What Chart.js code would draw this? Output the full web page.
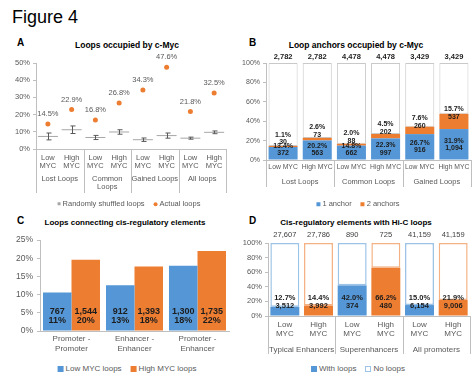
<!DOCTYPE html>
<html>
<head>
<meta charset="utf-8">
<script src="https://cdn.jsdelivr.net/npm/chart.js@4.4.0/dist/chart.umd.min.js"></script>
<style>
body { margin: 0; background: #fff; width: 474px; height: 383px; overflow: hidden; position: relative;
	font-family: "Liberation Sans", Arial, sans-serif; }
canvas { position: absolute; }
.t { position: absolute; white-space: nowrap; line-height: 1; transform: translate(-50%, -50%); }
.lt { position: absolute; white-space: nowrap; line-height: 1; transform: translateY(-50%); }
.lg { position: absolute; white-space: nowrap; line-height: 1; transform: translate(-50%, -50%);
	color: #595959; display: flex; align-items: center; }
.lg i { display: inline-block; margin-right: 2px; }
.lg b { font-weight: normal; margin-right: 9px; }
</style>
</head>
<body>

<div class="lt" style="left:12px;top:17px;font-size:18px;">Figure 4</div>

<div class="lt" style="left:17px;top:43px;font-size:10px;font-weight:bold;">A</div>
<div class="t" style="left:127px;top:45px;font-size:8.5px;font-weight:bold;">Loops occupied by c-Myc</div>
<div class="lt" style="left:249px;top:43px;font-size:10px;font-weight:bold;">B</div>
<div class="t" style="left:356px;top:45px;font-size:8.5px;font-weight:bold;">Loop anchors occupied by c-Myc</div>
<div class="lt" style="left:17px;top:221px;font-size:10px;font-weight:bold;">C</div>
<div class="t" style="left:125px;top:223px;font-size:8px;font-weight:bold;">Loops connecting cis-regulatory elements</div>
<div class="lt" style="left:249px;top:221px;font-size:10px;font-weight:bold;">D</div>
<div class="t" style="left:356px;top:223px;font-size:8px;font-weight:bold;">Cis-regulatory elements with Hi-C loops</div>

<canvas id="ca" width="237" height="150" style="left:0;top:50px"></canvas>
<canvas id="cb" width="237" height="140" style="left:237px;top:50px"></canvas>
<canvas id="cc" width="237" height="130" style="left:0;top:230px"></canvas>
<canvas id="cd" width="237" height="128" style="left:237px;top:230px"></canvas>

<div class="lg" style="left:129px;top:204px;font-size:7.5px;">
	<i style="width:3px;height:3px;background:#a6a6a6;"></i><b>Randomly shuffled loops</b>
	<i style="width:4px;height:4px;border-radius:50%;background:#ed7d31;"></i><b style="margin-right:0">Actual loops</b>
</div>
<div class="lg" style="left:358px;top:204px;font-size:7.5px;">
	<i style="width:4px;height:4px;background:#5597d6;"></i><b>1 anchor</b>
	<i style="width:4px;height:4px;background:#ed7d31;"></i><b style="margin-right:0">2 anchors</b>
</div>
<div class="lg" style="left:127px;top:369px;font-size:8px;">
	<i style="width:6px;height:6px;background:#5597d6;"></i><b>Low MYC loops</b>
	<i style="width:6px;height:6px;background:#ed7d31;"></i><b style="margin-right:0">High MYC loops</b>
</div>
<div class="lg" style="left:358px;top:369px;font-size:8px;">
	<i style="width:6px;height:6px;background:#5597d6;"></i><b>With loops</b>
	<i style="width:4px;height:4px;border:1px solid #9dc3e6;"></i><b style="margin-right:0">No loops</b>
</div>

<script>
// ---- panel A: loops occupied by c-Myc ----
const aCats = [["Low", "MYC"], ["High", "MYC"], ["Low", "MYC"], ["High", "MYC"],
	["Low", "MYC"], ["High", "MYC"], ["Low", "MYC"], ["High", "MYC"]];
const aGroups = [["Lost Loops"], ["Common", "Loops"], ["Gained Loops"], ["All loops"]];
const aShuffled = [7.3, 11.2, 6.7, 9.9, 5.4, 7.8, 6.3, 9.7];
const aShuffledErr = [2.0, 2.2, 1.2, 1.3, 1.0, 1.5, 0.6, 0.8];
const aActual = [14.5, 22.9, 16.8, 26.8, 34.3, 47.6, 21.8, 32.5];

// ---- panel B: loop anchors occupied by c-Myc ----
const bCats = ["Low MYC", "High MYC", "Low MYC", "High MYC", "Low MYC", "High MYC"];
const bGroups = [["Lost Loops"], ["Common Loops"], ["Gained Loops"]];
const bTotals = ["2,782", "2,782", "4,478", "4,478", "3,429", "3,429"];
const bOnePct = [13.4, 20.2, 14.8, 22.3, 26.7, 31.9];
const bOneN = ["372", "563", "662", "997", "916", "1,094"];
const bTwoPct = [1.1, 2.6, 2.0, 4.5, 7.6, 15.7];
const bTwoN = ["30", "73", "88", "202", "260", "537"];

// ---- panel C: loops connecting cis-regulatory elements ----
const cCats = [["Promoter -", "Promoter"], ["Enhancer -", "Enhancer"], ["Promoter -", "Enhancer"]];
const cLow = [10.6, 12.6, 17.9];
const cLowN = ["767", "912", "1,300"];
const cLowPct = ["11%", "13%", "18%"];
const cHigh = [19.6, 17.7, 22.0];
const cHighN = ["1,544", "1,393", "1,735"];
const cHighPct = ["20%", "18%", "22%"];

// ---- panel D: cis-regulatory elements with Hi-C loops ----
const dCats = [["Low", "MYC"], ["High", "MYC"], ["Low", "MYC"], ["High", "MYC"], ["Low", "MYC"], ["High", "MYC"]];
const dGroups = [["Typical Enhancers"], ["Superenhancers"], ["All promoters"]];
const dTotals = ["27,607", "27,786", "890", "725", "41,159", "41,159"];
const dWithPct = [12.7, 14.4, 42.0, 66.2, 15.0, 21.9];
const dWithN = ["3,512", "3,992", "374", "480", "6,154", "9,006"];

const FONT = '"Liberation Sans", Arial, sans-serif';
const BLUE = "#5597d6";
const ORANGE = "#ed7d31";
const AXIS = "#bfbfbf";
const GREY = "#595959";
const DARK = "#1c1c1c";

Chart.defaults.font.family = FONT;
Chart.defaults.color = GREY;
Chart.defaults.animation = false;
Chart.defaults.events = [];
Chart.defaults.plugins.legend.display = false;
Chart.defaults.plugins.tooltip.enabled = false;

function font(size, bold) {
	return (bold ? "bold " : "") + size + "px " + FONT;
}

// second level of category labels + divider lines under the x axis
function groupAxis(groups, size, o) {
	return {
		id: "groupAxis",
		afterDraw(chart) {
			const { ctx, chartArea, scales: { x } } = chart;
			const bottom = chartArea.bottom;
			ctx.save();
			ctx.strokeStyle = AXIS;
			ctx.lineWidth = 1;
			for (let g = 0; g <= groups.length; g++) {
				const px = Math.round(x.getPixelForValue(g * size - 0.5)) + 0.5;
				ctx.beginPath();
				ctx.moveTo(px, bottom);
				ctx.lineTo(px, bottom + o.drop);
				ctx.stroke();
			}
			ctx.fillStyle = GREY;
			ctx.font = font(o.size);
			ctx.textAlign = "center";
			ctx.textBaseline = "middle";
			groups.forEach((lines, g) => {
				const cx = x.getPixelForValue(g * size + (size - 1) / 2);
				lines.forEach((ln, k) => ctx.fillText(ln, cx, bottom + o.y + k * o.lh));
			});
			ctx.restore();
		},
	};
}

function twoLines(ctx, a, b, x, cy, gap) {
	ctx.fillText(a, x, cy - gap / 2);
	ctx.fillText(b, x, cy + gap / 2);
}

// ---------------- chart A ----------------
new Chart(document.getElementById("ca"), {
	type: "line",
	data: {
		labels: aCats,
		datasets: [
			{
				label: "Randomly shuffled loops",
				data: aShuffled,
				showLine: false,
				pointStyle: "line",
				pointRadius: 10,
				borderColor: "#a6a6a6",
				pointBorderColor: "#a6a6a6",
				pointBorderWidth: 1,
			},
			{
				label: "Actual loops",
				data: aActual,
				showLine: false,
				pointStyle: "circle",
				pointRadius: 2.5,
				borderColor: ORANGE,
				pointBackgroundColor: ORANGE,
				pointBorderWidth: 0,
			},
		],
	},
	options: {
		responsive: false,
		layout: { padding: { top: 13, right: 5, left: 0, bottom: 0 } },
		scales: {
			x: {
				offset: true,
				grid: { display: false, drawTicks: false },
				border: { color: AXIS },
				ticks: { font: { size: 7.5, lineHeight: 1.05 }, padding: 5, maxRotation: 0, autoSkip: false },
				afterFit: (s) => { s.height = 51; },
			},
			y: {
				min: 0,
				max: 50,
				ticks: { stepSize: 10, callback: (v) => v + "%", font: { size: 7.5 }, padding: 3 },
				grid: { drawOnChartArea: false, tickLength: 3, color: AXIS },
				border: { color: AXIS },
				afterFit: (s) => { s.width = 36; },
			},
		},
	},
	plugins: [
		groupAxis(aGroups, 2, { drop: 44, y: 30, lh: 8, size: 7.5 }),
		{
			id: "errorsAndLabels",
			afterDatasetsDraw(chart) {
				const { ctx, scales: { y } } = chart;
				ctx.save();
				ctx.strokeStyle = GREY;
				ctx.lineWidth = 1;
				chart.getDatasetMeta(0).data.forEach((pt, i) => {
					const top = y.getPixelForValue(aShuffled[i] + aShuffledErr[i]);
					const bot = y.getPixelForValue(aShuffled[i] - aShuffledErr[i]);
					const x = Math.round(pt.x) + 0.5;
					ctx.beginPath();
					ctx.moveTo(x, top); ctx.lineTo(x, bot);
					ctx.moveTo(x - 2, top); ctx.lineTo(x + 3, top);
					ctx.moveTo(x - 2, bot); ctx.lineTo(x + 3, bot);
					ctx.stroke();
				});
				ctx.fillStyle = GREY;
				ctx.font = font(7.5);
				ctx.textAlign = "center";
				ctx.textBaseline = "middle";
				chart.getDatasetMeta(1).data.forEach((pt, i) => {
					ctx.fillText(aActual[i].toFixed(1) + "%", pt.x, pt.y - 10);
				});
				ctx.restore();
			},
		},
	],
});

// ---------------- chart B ----------------
const bRest = bOnePct.map((v, i) => 100 - v - bTwoPct[i]);
new Chart(document.getElementById("cb"), {
	type: "bar",
	data: {
		labels: bCats,
		datasets: [
			{ label: "1 anchor", data: bOnePct, backgroundColor: BLUE },
			{ label: "2 anchors", data: bTwoPct, backgroundColor: ORANGE },
			{ label: "", data: bRest, backgroundColor: "#fff", borderColor: "#c9c9c9", borderWidth: 1, borderSkipped: false },
		],
	},
	options: {
		responsive: false,
		layout: { padding: { top: 13, right: 3, left: 0, bottom: 0 } },
		datasets: { bar: { barPercentage: 0.85, categoryPercentage: 1 } },
		scales: {
			x: {
				stacked: true,
				grid: { display: false, drawTicks: false },
				border: { color: AXIS },
				ticks: { font: { size: 6.8 }, padding: 3, maxRotation: 0, autoSkip: false },
				afterFit: (s) => { s.height = 30; },
			},
			y: {
				stacked: true,
				min: 0,
				max: 100,
				ticks: { stepSize: 20, callback: (v) => v + "%", font: { size: 7 }, padding: 3 },
				grid: { drawOnChartArea: false, tickLength: 3, color: AXIS },
				border: { color: AXIS },
				afterFit: (s) => { s.width = 29; },
			},
		},
	},
	plugins: [
		groupAxis(bGroups, 2, { drop: 27, y: 22, lh: 8, size: 7.5 }),
		{
			id: "barLabels",
			afterDatasetsDraw(chart) {
				const { ctx, chartArea } = chart;
				ctx.save();
				ctx.fillStyle = DARK;
				ctx.textAlign = "center";
				ctx.textBaseline = "middle";
				ctx.font = font(7, true);
				chart.getDatasetMeta(0).data.forEach((el, i) => {
					const cy = Math.min((el.y + el.base) / 2, el.base - 10);
					twoLines(ctx, bOnePct[i].toFixed(1) + "%", bOneN[i], el.x, cy, 7.3);
				});
				chart.getDatasetMeta(1).data.forEach((el, i) => {
					const cy = (el.y + el.base) / 2 - 8;
					twoLines(ctx, bTwoPct[i].toFixed(1) + "%", bTwoN[i], el.x, cy, 7.8);
				});
				ctx.font = font(7.5, true);
				chart.getDatasetMeta(0).data.forEach((el, i) => {
					ctx.fillText(bTotals[i], el.x, chartArea.top - 6);
				});
				ctx.restore();
			},
		},
	],
});

// ---------------- chart C ----------------
new Chart(document.getElementById("cc"), {
	type: "bar",
	data: {
		labels: cCats,
		datasets: [
			{ label: "Low MYC loops", data: cLow, backgroundColor: BLUE },
			{ label: "High MYC loops", data: cHigh, backgroundColor: ORANGE },
		],
	},
	options: {
		responsive: false,
		layout: { padding: { top: 10, right: 8, left: 0, bottom: 0 } },
		datasets: { bar: { barPercentage: 1, categoryPercentage: 0.905 } },
		scales: {
			x: {
				grid: { display: false, drawTicks: false },
				border: { color: AXIS },
				ticks: { font: { size: 8, lineHeight: 1.35 }, color: GREY, padding: 2, maxRotation: 0, autoSkip: false },
				afterFit: (s) => { s.height = 29; },
			},
			y: {
				min: 0,
				max: 25,
				ticks: { stepSize: 5, callback: (v) => v + "%", font: { size: 8.5 }, padding: 4 },
				grid: { drawOnChartArea: false, tickLength: 3, color: AXIS },
				border: { color: AXIS },
				afterFit: (s) => { s.width = 40; },
			},
		},
	},
	plugins: [
		{
			id: "barLabels",
			afterDatasetsDraw(chart) {
				const { ctx } = chart;
				ctx.save();
				ctx.fillStyle = DARK;
				ctx.textAlign = "center";
				ctx.textBaseline = "middle";
				ctx.font = font(9, true);
				chart.getDatasetMeta(0).data.forEach((el, i) => {
					twoLines(ctx, cLowN[i], cLowPct[i], el.x, el.base - 14.5, 9.3);
				});
				chart.getDatasetMeta(1).data.forEach((el, i) => {
					twoLines(ctx, cHighN[i], cHighPct[i], el.x, el.base - 14.5, 9.3);
				});
				ctx.restore();
			},
		},
	],
});

// ---------------- chart D ----------------
const dRest = dWithPct.map((v) => 100 - v);
const dFill = dCats.map((c, i) => (i % 2 ? ORANGE : BLUE));
const dEdge = dCats.map((c, i) => (i % 2 ? "#f4b183" : "#9dc3e6"));
new Chart(document.getElementById("cd"), {
	type: "bar",
	data: {
		labels: dCats,
		datasets: [
			{ label: "With loops", data: dWithPct, backgroundColor: dFill, borderColor: dEdge, borderWidth: 0 },
			{ label: "No loops", data: dRest, backgroundColor: "#fff", borderColor: dEdge, borderWidth: 1.5, borderSkipped: false },
		],
	},
	options: {
		responsive: false,
		layout: { padding: { top: 13, right: 4, left: 0, bottom: 0 } },
		datasets: { bar: { barPercentage: 0.86, categoryPercentage: 1 } },
		scales: {
			x: {
				stacked: true,
				grid: { display: false, drawTicks: false },
				border: { color: AXIS },
				ticks: { font: { size: 8, lineHeight: 1.12 }, padding: 4.5, maxRotation: 0, autoSkip: false },
				afterFit: (s) => { s.height = 42; },
			},
			y: {
				stacked: true,
				min: 0,
				max: 100,
				ticks: { stepSize: 20, callback: (v) => v + "%", font: { size: 7.5 }, padding: 3 },
				grid: { drawOnChartArea: false, tickLength: 3, color: AXIS },
				border: { color: AXIS },
				afterFit: (s) => { s.width = 31; },
			},
		},
	},
	plugins: [
		groupAxis(dGroups, 2, { drop: 38, y: 34, lh: 9, size: 8 }),
		{
			id: "barLabels",
			afterDatasetsDraw(chart) {
				const { ctx, chartArea } = chart;
				ctx.save();
				ctx.textAlign = "center";
				ctx.textBaseline = "middle";
				ctx.fillStyle = DARK;
				ctx.font = font(7.5, true);
				chart.getDatasetMeta(0).data.forEach((el, i) => {
					twoLines(ctx, dWithPct[i].toFixed(1) + "%", dWithN[i], el.x, el.base - 13.5, 7.5);
				});
				ctx.fillStyle = "#404040";
				ctx.font = font(7.5);
				chart.getDatasetMeta(0).data.forEach((el, i) => {
					ctx.fillText(dTotals[i], el.x, chartArea.top - 8);
				});
				ctx.restore();
			},
		},
	],
});
</script>
</body>
</html>
